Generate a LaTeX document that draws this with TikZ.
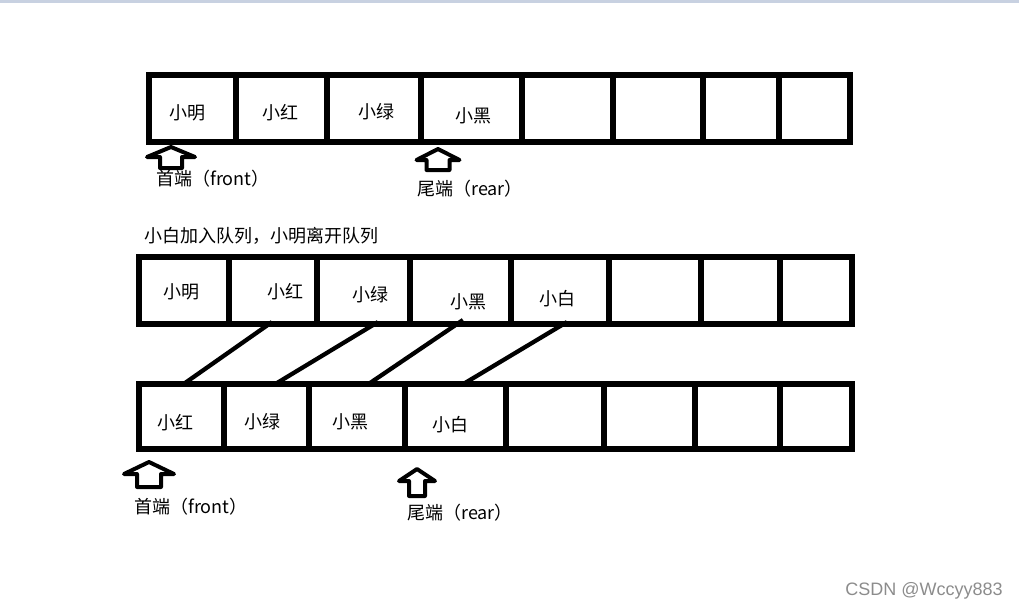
\documentclass[tikz,border=0pt]{standalone}
\usepackage{fontspec}
\setmainfont{Noto Sans CJK SC}
\newfontfamily\markfont{Liberation Sans}
\usepackage{xcolor}
\usepackage{tikz}
\definecolor{edgeblue}{HTML}{C8D1E1}
\tikzset{
  cellline/.style={line width=3.8pt},
  divline/.style={line width=3.8pt,line cap=round},
  linkline/.style={line width=3.2pt},
  arrowline/.style={line width=3pt,line join=round},
  lbl/.style={font=\fontsize{13.5}{15}\selectfont,inner sep=0pt},
}
% one queue row: top, bottom, left, right, divider positions
\newcommand{\qrow}[5]{%
  \draw[cellline] (#3,#1) rectangle (#4,#2);
  \foreach \x in {#5}
    {\draw[divline] (\x,#1) -- (\x,#2);}%
}
% hollow up arrow: tip x, tip y, half head, head y, half stem, stem y
\newcommand{\hollowup}[6]{%
  \draw[arrowline] (#1,#2) -- ({#1+#3},#4) -- ({#1+#5},#4) -- ({#1+#5},#6)
    -- ({#1-#5},#6) -- ({#1-#5},#4) -- ({#1-#3},#4) -- cycle;}

\begin{document}
\begin{tikzpicture}[x=0.75pt,y=-0.75pt]
  \useasboundingbox (0,0) rectangle (1019,611);
  \fill[edgeblue] (0,0) rectangle (1019,2.5);

  % before
  \qrow{75}{142}{149}{850}{236,327,421,522,613,703,779}
  \node[lbl] (a1) at (187,113) {小明};
  \node[lbl] (a2) at (280,113) {小红};
  \node[lbl] (a3) at (376,112) {小绿};
  \node[lbl] (a4) at (473,116) {小黑};
  \hollowup{171}{147}{24}{157}{11}{168}
  \hollowup{438}{149}{21.5}{160}{11.5}{170}
  \node[lbl,anchor=west] (front1) at (156,179) {首端（front）};
  \node[lbl,anchor=west] (rear1) at (417,189) {尾端（rear）};

  \node[lbl,anchor=west] (title) at (144,236) {小白加入队列，小明离开队列};

  % after enqueue
  \qrow{257}{324}{139}{852}{229,317,410,511,609,701,780}
  \node[lbl] (b1) at (181,292) {小明};
  \node[lbl] (b2) at (285,292) {小红};
  \node[lbl] (b3) at (370,295) {小绿};
  \node[lbl] (b4) at (468,302) {小黑};
  \node[lbl] (b5) at (557,299) {小白};

  % after dequeue
  \qrow{384}{449}{139}{852}{224,309,405,506,604,695,780}
  \node[lbl] (c1) at (175,423) {小红};
  \node[lbl] (c2) at (262,422) {小绿};
  \node[lbl] (c3) at (350,422) {小黑};
  \node[lbl] (c4) at (450,425) {小白};
  \hollowup{149}{462}{25}{474}{12}{487}
  \hollowup{417}{469}{18}{481}{8}{496}
  \node[lbl,anchor=west] (front2) at (134,507) {首端（front）};
  \node[lbl,anchor=west] (rear2) at (407,513) {尾端（rear）};

  % shift links
  \coordinate (s1) at (272,322);
  \coordinate (s2) at (378,322);
  \coordinate (s3) at (463,320);
  \coordinate (s4) at (567,322);
  \coordinate (t1) at (185,383);
  \coordinate (t2) at (277,383);
  \coordinate (t3) at (370,383);
  \coordinate (t4) at (465,383);
  \foreach \i in {1,...,4}
    {\draw[linkline] (s\i) -- (t\i);}

  \node[font=\markfont\fontsize{13.5}{15}\selectfont,text=black!45,inner sep=0pt,anchor=east]
    (mark) at (1003,591) {CSDN @Wccyy883};
\end{tikzpicture}
\end{document}
